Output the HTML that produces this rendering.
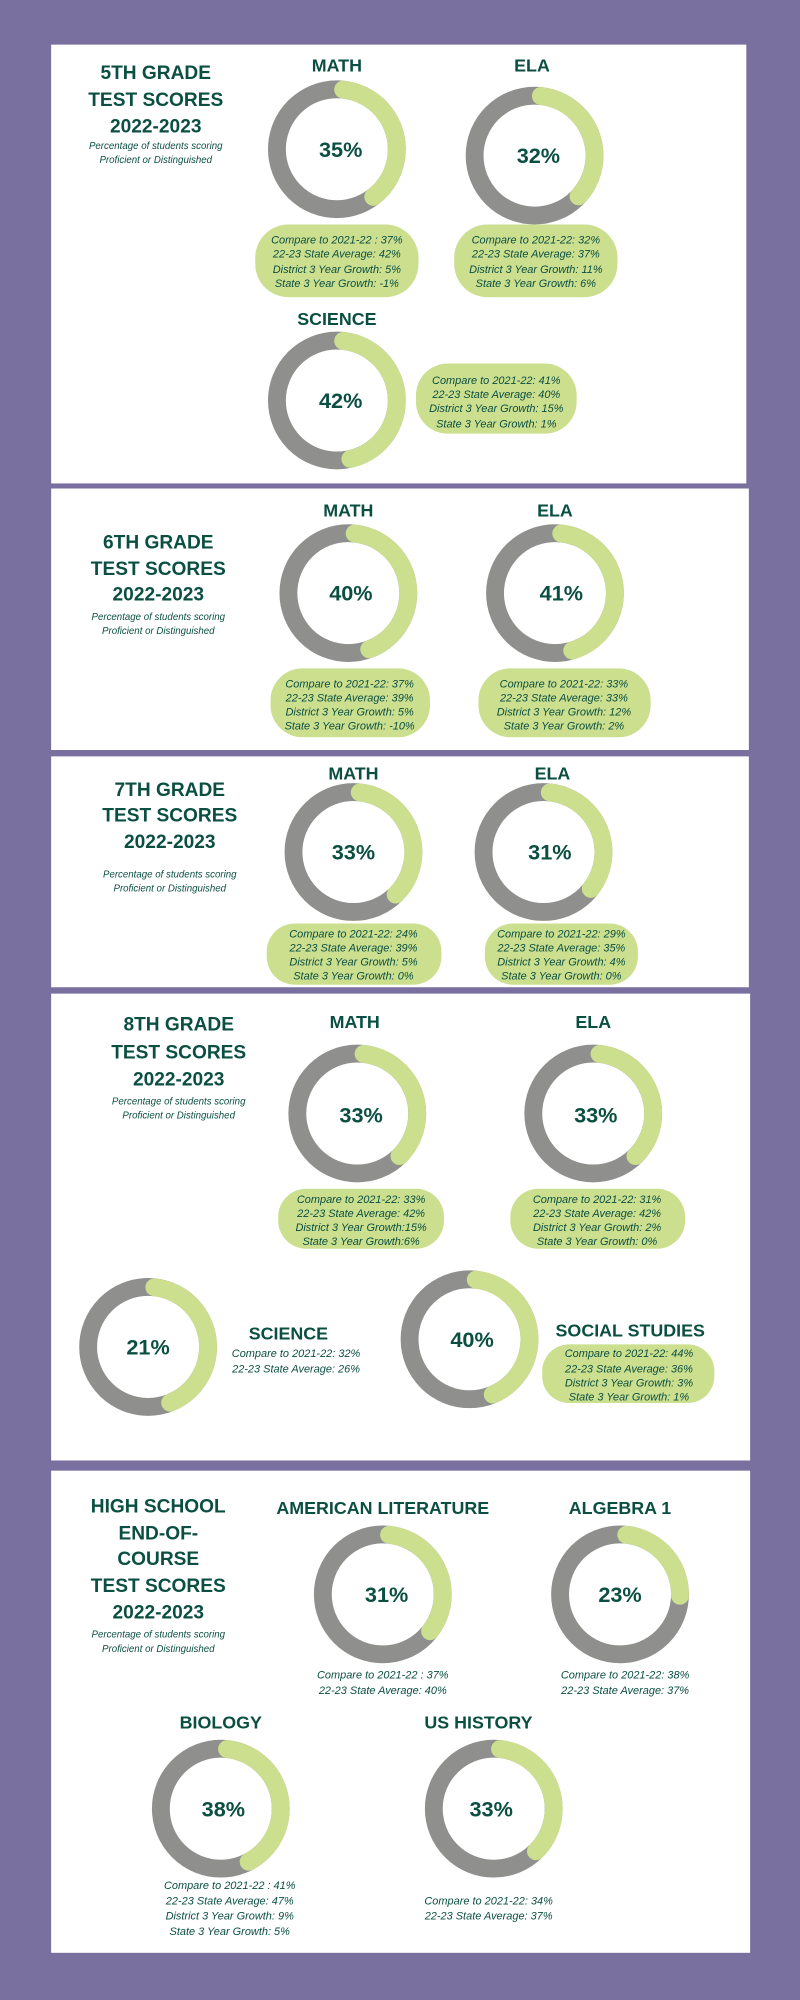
<!DOCTYPE html>
<html><head><meta charset="utf-8"><style>
html,body{margin:0;padding:0;background:#7a70a0;}
svg{display:block}
.t{font-family:"Liberation Sans",sans-serif;font-weight:bold;fill:#0b4f42;text-anchor:middle}
.i{font-family:"Liberation Sans",sans-serif;font-style:italic;fill:#0b4f42;text-anchor:middle;font-size:8.6px}
.s{font-family:"Liberation Sans",sans-serif;font-style:italic;fill:#0b4f42;text-anchor:middle;font-size:7.6px}
.g{fill:none;stroke:#8f8f8d;stroke-width:14}
.a{fill:none;stroke:#cbdf8f;stroke-width:14;stroke-linecap:round}
.p{fill:#cbdf8f}
</style></head><body>
<svg width="800" height="2000" viewBox="0 0 627 1568" xmlns="http://www.w3.org/2000/svg">
<rect width="627" height="1568" fill="#7a70a0"/>
<rect x="40" y="35" width="545" height="344" fill="#fff"/>
<rect x="40" y="383" width="547" height="205" fill="#fff"/>
<rect x="40" y="593" width="547" height="181" fill="#fff"/>
<rect x="40" y="779" width="548" height="366" fill="#fff"/>
<rect x="40" y="1153" width="548" height="378" fill="#fff"/>

<!-- P1 -->
<text class="t" x="122" y="62" font-size="15">5TH GRADE</text>
<text class="t" x="122" y="83" font-size="15">TEST SCORES</text>
<text class="t" x="122" y="104" font-size="15">2022-2023</text>
<text class="s" x="122" y="117">Percentage of students scoring</text>
<text class="s" x="122" y="128">Proficient or Distinguished</text>
<text class="t" x="264" y="56" font-size="14">MATH</text>
<text class="t" x="417" y="56" font-size="14">ELA</text>
<g transform="translate(264,117)"><circle r="47" class="g"/><circle r="47" class="a" stroke-dasharray="112 400" transform="rotate(-84)"/></g>
<text class="t" x="267" y="123" font-size="17">35%</text>
<g transform="translate(419,122)"><circle r="47" class="g"/><circle r="47" class="a" stroke-dasharray="104 400" transform="rotate(-84)"/></g>
<text class="t" x="422" y="128" font-size="17">32%</text>
<rect class="p" x="200" y="176" width="128" height="57" rx="26"/>
<text class="i" x="264" y="191">Compare to 2021-22 : 37%</text>
<text class="i" x="264" y="202">22-23 State Average: 42%</text>
<text class="i" x="264" y="214">District 3 Year Growth: 5%</text>
<text class="i" x="264" y="225">State 3 Year Growth: -1%</text>
<rect class="p" x="356" y="176" width="128" height="57" rx="26"/>
<text class="i" x="420" y="191">Compare to 2021-22: 32%</text>
<text class="i" x="420" y="202">22-23 State Average: 37%</text>
<text class="i" x="420" y="214">District 3 Year Growth: 11%</text>
<text class="i" x="420" y="225">State 3 Year Growth: 6%</text>
<text class="t" x="264" y="255" font-size="14">SCIENCE</text>
<g transform="translate(264,314)"><circle r="47" class="g"/><circle r="47" class="a" stroke-dasharray="132 400" transform="rotate(-84)"/></g>
<text class="t" x="267" y="320" font-size="17">42%</text>
<rect class="p" x="326" y="285" width="126" height="55" rx="25"/>
<text class="i" x="389" y="301">Compare to 2021-22: 41%</text>
<text class="i" x="389" y="312">22-23 State Average: 40%</text>
<text class="i" x="389" y="323">District 3 Year Growth: 15%</text>
<text class="i" x="389" y="335">State 3 Year Growth: 1%</text>

<!-- P2 -->
<text class="t" x="124" y="430" font-size="15">6TH GRADE</text>
<text class="t" x="124" y="451" font-size="15">TEST SCORES</text>
<text class="t" x="124" y="471" font-size="15">2022-2023</text>
<text class="s" x="124" y="486">Percentage of students scoring</text>
<text class="s" x="124" y="497">Proficient or Distinguished</text>
<text class="t" x="273" y="405" font-size="14">MATH</text>
<text class="t" x="435" y="405" font-size="14">ELA</text>
<g transform="translate(273,465)"><circle r="47" class="g"/><circle r="47" class="a" stroke-dasharray="126 400" transform="rotate(-84)"/></g>
<text class="t" x="275" y="471" font-size="17">40%</text>
<g transform="translate(435,465)"><circle r="47" class="g"/><circle r="47" class="a" stroke-dasharray="129 400" transform="rotate(-84)"/></g>
<text class="t" x="440" y="471" font-size="17">41%</text>
<rect class="p" x="212" y="524" width="125" height="54" rx="25"/>
<text class="i" x="274" y="539">Compare to 2021-22: 37%</text>
<text class="i" x="274" y="550">22-23 State Average: 39%</text>
<text class="i" x="274" y="561">District 3 Year Growth: 5%</text>
<text class="i" x="274" y="572">State 3 Year Growth: -10%</text>
<rect class="p" x="375" y="524" width="135" height="54" rx="25"/>
<text class="i" x="442" y="539">Compare to 2021-22: 33%</text>
<text class="i" x="442" y="550">22-23 State Average: 33%</text>
<text class="i" x="442" y="561">District 3 Year Growth: 12%</text>
<text class="i" x="442" y="572">State 3 Year Growth: 2%</text>

<!-- P3 -->
<text class="t" x="133" y="624" font-size="15">7TH GRADE</text>
<text class="t" x="133" y="644" font-size="15">TEST SCORES</text>
<text class="t" x="133" y="665" font-size="15">2022-2023</text>
<text class="s" x="133" y="688">Percentage of students scoring</text>
<text class="s" x="133" y="699">Proficient or Distinguished</text>
<text class="t" x="277" y="611" font-size="14">MATH</text>
<text class="t" x="433" y="611" font-size="14">ELA</text>
<g transform="translate(277,668)"><circle r="47" class="g"/><circle r="47" class="a" stroke-dasharray="106 400" transform="rotate(-84)"/></g>
<text class="t" x="277" y="674" font-size="17">33%</text>
<g transform="translate(426,668)"><circle r="47" class="g"/><circle r="47" class="a" stroke-dasharray="100 400" transform="rotate(-84)"/></g>
<text class="t" x="431" y="674" font-size="17">31%</text>
<rect class="p" x="209" y="724" width="137" height="48" rx="22"/>
<text class="i" x="277" y="735">Compare to 2021-22: 24%</text>
<text class="i" x="277" y="746">22-23 State Average: 39%</text>
<text class="i" x="277" y="757">District 3 Year Growth: 5%</text>
<text class="i" x="277" y="768">State 3 Year Growth: 0%</text>
<rect class="p" x="380" y="724" width="120" height="48" rx="22"/>
<text class="i" x="440" y="735">Compare to 2021-22: 29%</text>
<text class="i" x="440" y="746">22-23 State Average: 35%</text>
<text class="i" x="440" y="757">District 3 Year Growth: 4%</text>
<text class="i" x="440" y="768">State 3 Year Growth: 0%</text>

<!-- P4 -->
<text class="t" x="140" y="808" font-size="15">8TH GRADE</text>
<text class="t" x="140" y="830" font-size="15">TEST SCORES</text>
<text class="t" x="140" y="851" font-size="15">2022-2023</text>
<text class="s" x="140" y="866">Percentage of students scoring</text>
<text class="s" x="140" y="877">Proficient or Distinguished</text>
<text class="t" x="278" y="806" font-size="14">MATH</text>
<text class="t" x="465" y="806" font-size="14">ELA</text>
<g transform="translate(280,873)"><circle r="47" class="g"/><circle r="47" class="a" stroke-dasharray="106 400" transform="rotate(-84)"/></g>
<text class="t" x="283" y="880" font-size="17">33%</text>
<g transform="translate(465,873)"><circle r="47" class="g"/><circle r="47" class="a" stroke-dasharray="106 400" transform="rotate(-84)"/></g>
<text class="t" x="467" y="880" font-size="17">33%</text>
<rect class="p" x="218" y="932" width="130" height="47" rx="22"/>
<text class="i" x="283" y="943">Compare to 2021-22: 33%</text>
<text class="i" x="283" y="954">22-23 State Average: 42%</text>
<text class="i" x="283" y="965">District 3 Year Growth:15%</text>
<text class="i" x="283" y="976">State 3 Year Growth:6%</text>
<rect class="p" x="400" y="932" width="137" height="47" rx="22"/>
<text class="i" x="468" y="943">Compare to 2021-22: 31%</text>
<text class="i" x="468" y="954">22-23 State Average: 42%</text>
<text class="i" x="468" y="965">District 3 Year Growth: 2%</text>
<text class="i" x="468" y="976">State 3 Year Growth: 0%</text>
<g transform="translate(116,1056)"><circle r="47" class="g"/><circle r="47" class="a" stroke-dasharray="125 400" transform="rotate(-84)"/></g>
<text class="t" x="116" y="1062" font-size="17">21%</text>
<text class="t" x="226" y="1050" font-size="14">SCIENCE</text>
<text class="i" x="232" y="1064">Compare to 2021-22: 32%</text>
<text class="i" x="232" y="1076">22-23 State Average: 26%</text>
<g transform="translate(368,1050)"><circle r="47" class="g"/><circle r="47" class="a" stroke-dasharray="124 400" transform="rotate(-84)"/></g>
<text class="t" x="370" y="1056" font-size="17">40%</text>
<text class="t" x="494" y="1048" font-size="14">SOCIAL STUDIES</text>
<rect class="p" x="425" y="1054" width="135" height="46" rx="21"/>
<text class="i" x="493" y="1064">Compare to 2021-22: 44%</text>
<text class="i" x="493" y="1076">22-23 State Average: 36%</text>
<text class="i" x="493" y="1087">District 3 Year Growth: 3%</text>
<text class="i" x="493" y="1098">State 3 Year Growth: 1%</text>

<!-- P5 -->
<text class="t" x="124" y="1186" font-size="15">HIGH SCHOOL</text>
<text class="t" x="124" y="1207" font-size="15">END-OF-</text>
<text class="t" x="124" y="1227" font-size="15">COURSE</text>
<text class="t" x="124" y="1248" font-size="15">TEST SCORES</text>
<text class="t" x="124" y="1269" font-size="15">2022-2023</text>
<text class="s" x="124" y="1284">Percentage of students scoring</text>
<text class="s" x="124" y="1295">Proficient or Distinguished</text>
<text class="t" x="300" y="1187" font-size="14">AMERICAN LITERATURE</text>
<text class="t" x="486" y="1187" font-size="14">ALGEBRA 1</text>
<g transform="translate(300,1250)"><circle r="47" class="g"/><circle r="47" class="a" stroke-dasharray="100 400" transform="rotate(-84)"/></g>
<text class="t" x="303" y="1256" font-size="17">31%</text>
<g transform="translate(486,1250)"><circle r="47" class="g"/><circle r="47" class="a" stroke-dasharray="70 400" transform="rotate(-84)"/></g>
<text class="t" x="486" y="1256" font-size="17">23%</text>
<text class="i" x="300" y="1316">Compare to 2021-22 : 37%</text>
<text class="i" x="300" y="1328">22-23 State Average: 40%</text>
<text class="i" x="490" y="1316">Compare to 2021-22: 38%</text>
<text class="i" x="490" y="1328">22-23 State Average: 37%</text>
<text class="t" x="173" y="1355" font-size="14">BIOLOGY</text>
<text class="t" x="375" y="1355" font-size="14">US HISTORY</text>
<g transform="translate(173,1418)"><circle r="47" class="g"/><circle r="47" class="a" stroke-dasharray="120 400" transform="rotate(-84)"/></g>
<text class="t" x="175" y="1424" font-size="17">38%</text>
<g transform="translate(387,1418)"><circle r="47" class="g"/><circle r="47" class="a" stroke-dasharray="106 400" transform="rotate(-84)"/></g>
<text class="t" x="385" y="1424" font-size="17">33%</text>
<text class="i" x="180" y="1481">Compare to 2021-22 : 41%</text>
<text class="i" x="180" y="1493">22-23 State Average: 47%</text>
<text class="i" x="180" y="1505">District 3 Year Growth: 9%</text>
<text class="i" x="180" y="1517">State 3 Year Growth: 5%</text>
<text class="i" x="383" y="1493">Compare to 2021-22: 34%</text>
<text class="i" x="383" y="1505">22-23 State Average: 37%</text>
</svg>
</body></html>
